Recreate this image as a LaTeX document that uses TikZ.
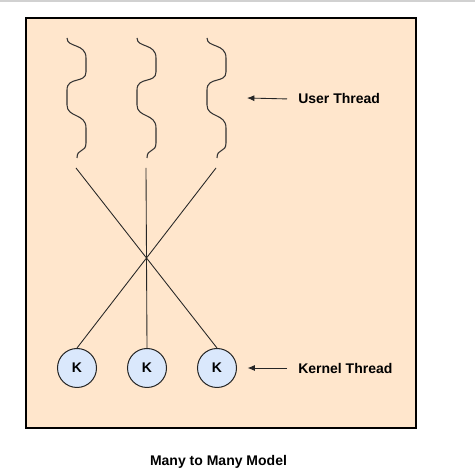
\documentclass[tikz,border=0pt]{standalone}
\usepackage{fontspec}
\setmainfont{Liberation Sans}
\usepackage{xcolor}
\usetikzlibrary{arrows,arrows.meta,shapes}
\usetikzlibrary{positioning}
\definecolor{peach}{HTML}{FFE6CC}
\definecolor{paleblue}{HTML}{DAE8FC}

\begin{document}
\begin{tikzpicture}[x=0.75pt, y=-0.75pt, node distance=22.5pt, font=\fontsize{10.5}{12}\selectfont\bfseries]
\tikzstyle{kthread} = [circle, draw = black!85, fill = paleblue, line width = 0.75pt, minimum size = 29.25pt, inner sep = 0pt]
\tikzstyle{tlabel} = [inner sep = 0pt]
\tikzstyle{squiggle} = [draw = black!80, line width = 0.8pt]
\tikzstyle{link} = [draw = black!85, line width = 0.65pt]
\tikzstyle{pointer} = [link, -{Latex[length=5.5pt, width=4.5pt]}]
\useasboundingbox (0,0) rectangle (475,473);
\draw [black!18, line width = 1pt] (0,1) -- (475,1);
\draw [fill = peach, line width = 0.8pt] (26,18) rectangle (416,428);
% user threads
\foreach \x in {67,137,207}
  \draw [squiggle, shift={(\x,38)}] (0,0) .. controls (0,10) and (19,5) .. (19,20) -- (19,34)
    .. controls (19,46) and (0,38) .. (0,52) -- (0,67)
    .. controls (0,80) and (19,75) .. (19,90) -- (19,105)
    .. controls (19,115) and (10,110) .. (10,120);
\coordinate (u1) at (76,168);
\coordinate (u2) at (146,168);
\coordinate (u3) at (216,168);
% kernel threads
\node (k1) [kthread] at (77,368) {K};
\node (k2) [kthread, right = of k1] {K};
\node (k3) [kthread, right = of k2] {K};
\draw [link] (u1) -- (k3.north);
\draw [link] (u2) -- (k2.north);
\draw [link] (u3) -- (k1.north);
% labels
\node (ulabel) [tlabel, anchor = base west] at (298,104) {User Thread};
\coordinate (utip) at (247,98);
\draw [pointer] ([xshift=-8.25pt, yshift=3.8pt]ulabel.base west) -- (utip);
\node (klabel) [tlabel, anchor = base west] at (298,374) {Kernel Thread};
\draw [pointer, shorten > = 7.9pt] ([xshift=-8.25pt]klabel.west |- k3) -- (k3.east);
\node (title) [tlabel, anchor = base] at (218.5,465.5) {Many to Many Model};
\end{tikzpicture}
\end{document}
